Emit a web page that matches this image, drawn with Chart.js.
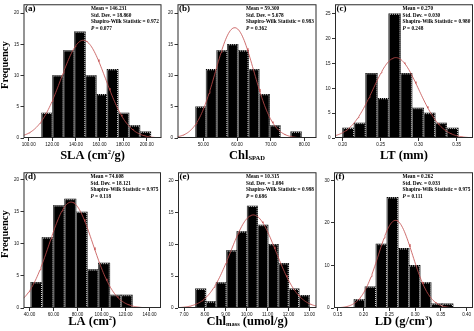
<!DOCTYPE html>
<html>
<head>
<meta charset="utf-8">
<script src="https://cdn.jsdelivr.net/npm/chart.js@4.4.1/dist/chart.umd.min.js"></script>
<style>
  html, body { margin: 0; padding: 0; background: #fff; }
  #wrap { position: relative; width: 474px; height: 331px; overflow: hidden; }
  canvas { position: absolute; }
</style>
</head>
<body>
<div id="wrap">
  <canvas id="chartA" width="163" height="170" style="left:0;top:0"></canvas>
  <canvas id="chartB" width="163" height="170" style="left:155px;top:0"></canvas>
  <canvas id="chartC" width="162" height="170" style="left:312px;top:0"></canvas>
  <canvas id="chartD" width="163" height="163" style="left:0;top:168px"></canvas>
  <canvas id="chartE" width="163" height="163" style="left:155px;top:168px"></canvas>
  <canvas id="chartF" width="162" height="163" style="left:312px;top:168px"></canvas>
</div>
<script>
// Histogram counts (N = 80 each)
const slaCounts = [4, 10, 14, 17, 10, 7, 11, 4, 2, 1];
const chlSpadCounts = [5, 11, 14, 15, 14, 11, 7, 2, 0, 1];
const ltCounts = [2, 3, 13, 8, 25, 13, 6, 5, 3, 2];
const laCounts = [4, 11, 16, 17, 15, 6, 7, 2, 2];
const chlMassCounts = [3, 1, 4, 9, 12, 16, 13, 10, 7, 3, 2];
const ldCounts = [2, 5, 15, 26, 14, 10, 6, 1, 1];

// [first bin lower edge, bin width]
const slaBins = [111.0, 9.24];
const chlSpadBins = [47.7, 3.14];
const ltBins = [0.200, 0.0152];
const laBins = [41.1, 9.39];
const chlMassBins = [7.546, 0.496];
const ldBins = [0.1817, 0.0213];

// [Mean, Std. Dev., Shapiro-Wilk Statistic, P]
const slaStats = ['146.231', '18.860', '0.972', '0.077'];
const chlSpadStats = ['59.300', '5.678', '0.983', '0.362'];
const ltStats = ['0.270', '0.030', '0.980', '0.248'];
const laStats = ['74.608', '18.121', '0.975', '0.118'];
const chlMassStats = ['10.315', '1.084', '0.988', '0.686'];
const ldStats = ['0.262', '0.033', '0.975', '0.111'];

// x axis ticks and ranges
const slaTicks = [100, 120, 140, 160, 180, 200];
const chlSpadTicks = [50, 60, 70, 80];
const ltTicks = [0.20, 0.25, 0.30, 0.35];
const laTicks = [40, 60, 80, 100, 120, 140];
const chlMassTicks = [7, 8, 9, 10, 11, 12, 13];
const ldTicks = [0.15, 0.20, 0.25, 0.30, 0.35, 0.40];

const slaRange = [95.6, 212.5];
const chlSpadRange = [42.3, 83.6];
const ltRange = [0.19, 0.3715];
const laRange = [35, 149.5];
const chlMassRange = [6.71, 13.34];
const ldRange = [0.1428, 0.4122];

// y (Frequency) ticks and top of axis
const freqTicks20 = [0, 5, 10, 15, 20];
const freqTicks25 = [0, 5, 10, 15, 20, 25];
const freqTicks30 = [0, 10, 20, 30];
const freqMax = [21.4, 21.4, 26.9, 21.2, 21.3, 31.9];

const SERIF = '"Liberation Serif", "Times New Roman", serif';
const SANS = '"Liberation Sans", Arial, sans-serif';

// fitted normal curve from the printed mean / std. dev., scaled to N * bin width
function normalCurve(stats, bins, counts, range) {
    const mean = parseFloat(stats[0]);
    const sd = parseFloat(stats[1]);
    const n = counts.reduce((a, b) => a + b, 0);
    const k = n * bins[1] / (sd * Math.sqrt(2 * Math.PI));
    const pts = [];
    for (let i = 0; i <= 150; i++) {
        const x = range[0] + (range[1] - range[0]) * i / 150;
        const z = (x - mean) / sd;
        pts.push({ x: x, y: k * Math.exp(-z * z / 2) });
    }
    return pts;
}

// frame, bar dotted outlines, labels, stats box, axis titles
const decor = {
    id: 'decor',
    afterDatasetDraw(chart, args) {
        if (args.meta.type !== 'bar') return;
        const ctx = chart.ctx;
        ctx.save();
        ctx.strokeStyle = '#ffffff';
        ctx.lineWidth = 0.9;
        ctx.setLineDash([1, 1]);
        args.meta.data.forEach(bar => {
            const p = bar.getProps(['x', 'y', 'base', 'width'], true);
            if (p.base - p.y < 0.5) return;
            const l = p.x - p.width / 2 + 0.5;
            const r = p.x + p.width / 2 - 0.5;
            ctx.beginPath();
            ctx.moveTo(l, p.base);
            ctx.lineTo(l, p.y + 0.5);
            ctx.lineTo(r, p.y + 0.5);
            ctx.lineTo(r, p.base);
            ctx.stroke();
        });
        ctx.restore();
    },
    afterDraw(chart) {
        const o = chart.options.plugins.decor;
        const ctx = chart.ctx;
        const a = chart.chartArea;
        ctx.save();
        ctx.strokeStyle = '#2a2a2a';
        ctx.lineWidth = 1;
        ctx.strokeRect(a.left + 0.5, a.top + 0.5, a.right - a.left - 1, a.bottom - a.top - 1);

        ctx.fillStyle = '#000';
        ctx.textBaseline = 'middle';
        ctx.textAlign = 'left';
        ctx.font = 'bold 9px ' + SERIF;
        ctx.fillText(o.tag, a.left + 1.5, a.top + 4.5);

        const s = o.stats;
        const lines = [['Mean = ', s[0]], ['Std. Dev. = ', s[1]], ['Shapiro-Wilk Statistic = ', s[2]], ['P', ' = ' + s[3]]];
        const sx = a.right - 70.5;
        lines.forEach((ln, i) => {
            const y = a.top + 4.5 + i * 6.5;
            if (i === 3) {
                ctx.font = 'italic bold 5.3px ' + SERIF;
                ctx.fillText(ln[0], sx, y);
                const w = ctx.measureText(ln[0]).width;
                ctx.font = 'bold 5.3px ' + SERIF;
                ctx.fillText(ln[1], sx + w, y);
            } else {
                ctx.font = 'bold 5.3px ' + SERIF;
                ctx.fillText(ln[0] + ln[1], sx, y);
            }
        });

        // x axis title made of normal / sup / sub pieces
        const parts = o.title;
        const fontFor = t => t === 'n' ? 'bold 12.5px ' + SERIF : 'bold 6.5px ' + SERIF;
        let total = 0;
        parts.forEach(pt => { ctx.font = fontFor(pt[1]); total += ctx.measureText(pt[0]).width; });
        let x = (a.left + a.right) / 2 - total / 2;
        const base = a.bottom + o.titleDy;
        ctx.textBaseline = 'alphabetic';
        parts.forEach(pt => {
            ctx.font = fontFor(pt[1]);
            const dy = pt[1] === 'sup' ? -5 : (pt[1] === 'sub' ? 0.5 : 0);
            ctx.fillText(pt[0], x, base + dy);
            x += ctx.measureText(pt[0]).width;
        });

        if (o.yTitle) {
            ctx.translate(5.5, (a.top + a.bottom) / 2 - 6);
            ctx.rotate(-Math.PI / 2);
            ctx.textAlign = 'center';
            ctx.textBaseline = 'middle';
            ctx.font = 'bold 10.5px ' + SERIF;
            ctx.fillText('Frequency', 0, 0);
        }
        ctx.restore();
    }
};

const panels = [
    { id: 'chartA', tag: '(a)', counts: slaCounts, bins: slaBins, stats: slaStats, xTicks: slaTicks, range: slaRange, yTicks: freqTicks20, yMax: freqMax[0],
      title: [['SLA (cm', 'n'], ['2', 'sup'], ['/g)', 'n']], yTitle: true, yW: 23.5, padR: 1.5, row: 0 },
    { id: 'chartB', tag: '(b)', counts: chlSpadCounts, bins: chlSpadBins, stats: chlSpadStats, xTicks: chlSpadTicks, range: chlSpadRange, yTicks: freqTicks20, yMax: freqMax[1],
      title: [['Chl', 'n'], ['SPAD', 'sub']], yTitle: false, yW: 22.5, padR: 1.5, row: 0 },
    { id: 'chartC', tag: '(c)', counts: ltCounts, bins: ltBins, stats: ltStats, xTicks: ltTicks, range: ltRange, yTicks: freqTicks25, yMax: freqMax[2],
      title: [['LT (mm)', 'n']], yTitle: false, yW: 23, padR: 1, row: 0 },
    { id: 'chartD', tag: '(d)', counts: laCounts, bins: laBins, stats: laStats, xTicks: laTicks, range: laRange, yTicks: freqTicks20, yMax: freqMax[3],
      title: [['LA (cm', 'n'], ['2', 'sup'], [')', 'n']], yTitle: true, yW: 23.5, padR: 2, row: 1 },
    { id: 'chartE', tag: '(e)', counts: chlMassCounts, bins: chlMassBins, stats: chlMassStats, xTicks: chlMassTicks, range: chlMassRange, yTicks: freqTicks20, yMax: freqMax[4],
      title: [['Chl', 'n'], ['mass', 'sub'], [' (umol/g)', 'n']], yTitle: false, yW: 23, padR: 1.5, row: 1 },
    { id: 'chartF', tag: '(f)', counts: ldCounts, bins: ldBins, stats: ldStats, xTicks: ldTicks, range: ldRange, yTicks: freqTicks30, yMax: freqMax[5],
      title: [['LD (g/cm', 'n'], ['3', 'sup'], [')', 'n']], yTitle: false, yW: 22, padR: 1, row: 1 }
];

panels.forEach(p => {
    const barData = p.counts.map((c, i) => ({ x: p.bins[0] + (i + 0.5) * p.bins[1], y: c }));
    const axisGrid = { display: true, drawOnChartArea: false, drawTicks: true, tickLength: 3, color: '#333', offset: false };
    new Chart(document.getElementById(p.id), {
        type: 'bar',
        data: {
            datasets: [
                {
                    type: 'line',
                    data: normalCurve(p.stats, p.bins, p.counts, p.range),
                    borderColor: 'rgba(196, 78, 78, 0.9)',
                    borderWidth: 0.9,
                    pointRadius: 0,
                    tension: 0
                },
                {
                    type: 'bar',
                    data: barData,
                    backgroundColor: '#000000',
                    borderWidth: 0,
                    barPercentage: 1,
                    categoryPercentage: 1
                }
            ]
        },
        options: {
            responsive: false,
            animation: false,
            events: [],
            layout: { padding: { top: p.row === 0 ? 1 : 2, right: p.padR, left: 0, bottom: 0 } },
            plugins: {
                legend: { display: false },
                tooltip: { enabled: false },
                decor: { tag: p.tag, stats: p.stats, title: p.title, yTitle: p.yTitle, titleDy: p.row === 0 ? 21 : 17 }
            },
            scales: {
                x: {
                    type: 'linear',
                    min: p.range[0],
                    max: p.range[1],
                    offset: false,
                    afterBuildTicks: s => { s.ticks = p.xTicks.map(v => ({ value: v })); },
                    afterFit: s => { s.height = p.row === 0 ? 32 : 23; },
                    grid: axisGrid,
                    border: { display: false },
                    ticks: {
                        autoSkip: false,
                        maxRotation: 0,
                        padding: 1,
                        color: '#111',
                        font: { family: SANS, size: 4.6 },
                        callback: v => Number(v).toFixed(2)
                    }
                },
                y: {
                    min: 0,
                    max: p.yMax,
                    afterBuildTicks: s => { s.ticks = p.yTicks.map(v => ({ value: v })); },
                    afterFit: s => { s.width = p.yW; },
                    grid: axisGrid,
                    border: { display: false },
                    ticks: {
                        padding: 1.5,
                        color: '#111',
                        font: { family: SANS, size: 4.6 }
                    }
                }
            }
        },
        plugins: [decor]
    });
});
</script>
</body>
</html>
